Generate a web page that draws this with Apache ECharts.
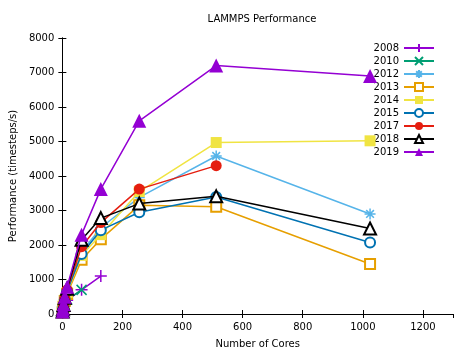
<!DOCTYPE html>
<html><head><meta charset="utf-8">
<script src="https://cdn.jsdelivr.net/npm/echarts@6/dist/echarts.min.js"></script>
<style>html,body{margin:0;padding:0;background:#fff}#c{width:474px;height:355px}</style>
</head><body><div id="c"></div>
<script>
const cores = [1, 2, 4, 8, 16, 64, 128, 256, 512, 1024];
const years = ['2008','2010','2012','2013','2014','2015','2017','2018','2019'];
const v2008 = [40, 80, 150, 260, 400, 700, 1100, null, null, null];
const v2010 = [40, 80, 150, 270, 420, 700, null, null, null, null];
const v2012 = [60, 120, 230, 420, 650, 1800, 2500, 3380, 4580, 2900];
const v2013 = [50, 110, 210, 380, 580, 1570, 2170, 3150, 3110, 1450];
const v2014 = [55, 115, 220, 400, 620, 1700, 2300, 3550, 4970, 5020];
const v2015 = [60, 120, 230, 420, 660, 1740, 2430, 2950, 3390, 2070];
const v2017 = [65, 130, 250, 450, 700, 1950, 2650, 3620, 4300, null];
const v2018 = [70, 140, 260, 470, 730, 2150, 2780, 3200, 3410, 2480];
const v2019 = [75, 150, 280, 500, 790, 2300, 3620, 5600, 7200, 6900];
const xTicks = [0, 200, 400, 600, 800, 1000, 1200];
const yTicks = [0, 1000, 2000, 3000, 4000, 5000, 6000, 7000, 8000];

const values = [v2008, v2010, v2012, v2013, v2014, v2015, v2017, v2018, v2019];
const colors = ['#9400d3','#009e73','#56b4e9','#e69f00','#f0e442','#0072b2','#e51e10','#000000','#9400d3'];
const plusP = 'path://M5,0L5,10M0,5L10,5';
const xP = 'path://M0,0L10,10M10,0L0,10';
const starP = 'path://M5,0L5,10M0,5L10,5M1.5,1.5L8.5,8.5M8.5,1.5L1.5,8.5';
const symbols = [plusP, xP, starP, 'emptyRect', 'rect', 'emptyCircle', 'circle', 'emptyTriangle', 'triangle'];
const sizes = [12, 10, 11, 10, 11, 10, 11, 12, 14];
const FONT = 'DejaVu Sans';

const series = years.map((y, i) => ({
  name: y, type: 'line',
  data: cores.map((c, j) => values[i][j] == null ? null : [c, values[i][j]]).filter(d => d),
  symbol: symbols[i], symbolSize: sizes[i],
  lineStyle: {color: colors[i], width: 1.5},
  itemStyle: {color: colors[i], borderColor: colors[i], borderWidth: (i <= 3 || i === 5 || i === 7) ? 1.5 : 0},
  emphasis: {disabled: true}, animation: false, z: 2 + i
}));

const chart = echarts.init(document.getElementById('c'), null, {renderer: 'canvas'});
const axBase = {
  axisLine: {show: true, lineStyle: {color: '#000', width: 1}},
  axisTick: {show: true, inside: true, length: 4, lineStyle: {color: '#000'}},
  splitLine: {show: false}
};
chart.setOption({
  animation: false,
  backgroundColor: '#fff',
  color: colors,
  title: {text: 'LAMMPS Performance', left: 257, textAlign: 'center', top: 9,
    textStyle: {fontFamily: FONT, fontSize: 10, fontWeight: 'normal', color: '#000'}},
  grid: {left: 62, right: 21, top: 38, bottom: 41},
  legend: {
    orient: 'vertical', right: 34, top: 38, align: 'right',
    itemWidth: 30, itemHeight: 10, itemGap: 3,
    textStyle: {fontFamily: FONT, fontSize: 10, color: '#000'},
    data: years
  },
  xAxis: [
    Object.assign({}, axBase, {type: 'value', min: 0, max: 1300, interval: 200, position: 'bottom',
      name: 'Number of Cores', nameLocation: 'middle', nameGap: 25,
      nameTextStyle: {fontFamily: FONT, fontSize: 10, color: '#000'},
      axisLabel: {fontFamily: FONT, fontSize: 10, color: '#000', margin: 8, showMaxLabel: false,
        formatter: v => xTicks.indexOf(Number(v)) >= 0 ? String(v) : ''}}),
    Object.assign({}, axBase, {type: 'value', min: 0, max: 1300, interval: 200, position: 'top',
      axisLabel: {show: false}})
  ],
  yAxis: [
    Object.assign({}, axBase, {type: 'value', min: 0, max: 8000, interval: 1000, position: 'left',
      name: 'Performance (timesteps/s)', nameLocation: 'middle', nameGap: 44,
      nameTextStyle: {fontFamily: FONT, fontSize: 10, color: '#000'},
      axisLabel: {fontFamily: FONT, fontSize: 10, color: '#000', margin: 8,
        formatter: v => yTicks.indexOf(Number(v)) >= 0 ? String(v) : ''}}),
    Object.assign({}, axBase, {type: 'value', min: 0, max: 8000, interval: 1000, position: 'right',
      axisLabel: {show: false}})
  ],
  series: series
});
</script></body></html>
